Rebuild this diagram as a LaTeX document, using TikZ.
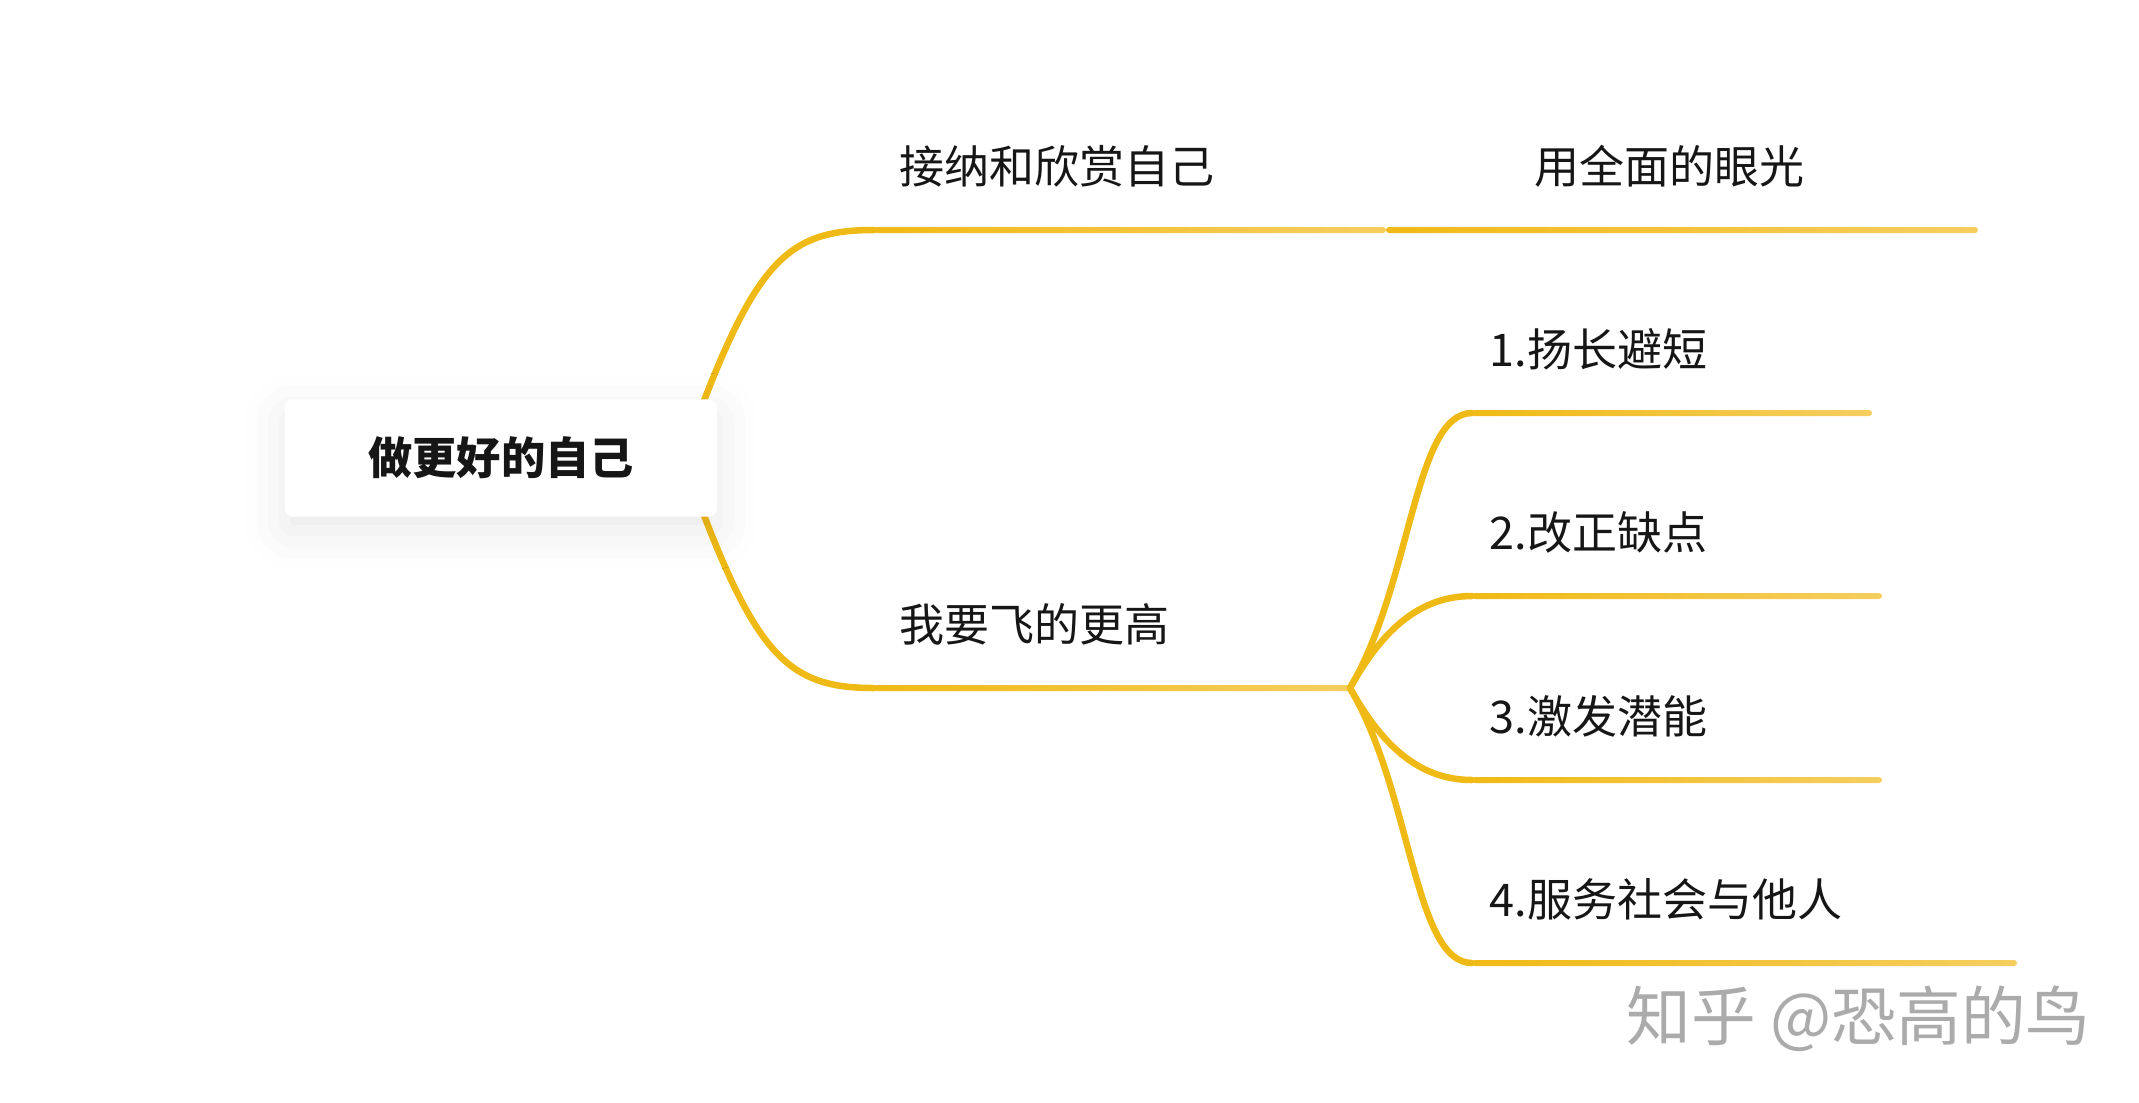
\documentclass[tikz,border=0pt]{standalone}
\usepackage{fontspec}
\newfontfamily\cjk{Noto Sans CJK SC}
\usepackage{tikz}
\usetikzlibrary{positioning, calc, shadows.blur, backgrounds}
\definecolor{mapgold}{RGB}{240,186,22}
\definecolor{mapgoldlight}{RGB}{245,206,95}
\definecolor{inkblack}{RGB}{22,22,22}
\tikzset{
    branch/.style={draw=mapgold, line width=0.065cm, line cap=round},
    underbar/.style={left color=mapgold, right color=mapgoldlight, rounded corners=0.03cm},
    topic/.style={font=\cjk\fontsize{12.8pt}{15pt}\selectfont, text=inkblack, inner sep=0pt,
        text height=0.396cm, text depth=0.054cm},
    rootbox/.style={fill=white, rounded corners=0.08cm, minimum width=4.32cm, minimum height=1.17cm,
        font=\cjk\bfseries\fontsize{12.6pt}{15pt}\selectfont, text=inkblack,
        blur shadow={shadow xshift=0cm, shadow yshift=-0.14cm, shadow blur radius=0.4cm, shadow opacity=9}},
    watermark/.style={font=\cjk\fontsize{18.4pt}{22pt}\selectfont, text=black!33, anchor=west, inner sep=0pt},
}
\begin{document}
\begin{tikzpicture}[x=0.01cm, y=-0.01cm]
    \useasboundingbox (0,0) rectangle (2139,1102);
    \node[rootbox] (root) at (501,458) {做更好的自己};
    \coordinate (hub) at ([xshift=-0.35cm]root.east);
    % first level
    \coordinate (t1-a) at (874,230);
    \coordinate (t1-b) at (1386,230);
    \coordinate (t11-b) at (1978,230);
    \coordinate (t2-a) at (874,688);
    \coordinate (t2-b) at (1350,688);
    \node[topic, above right=0.405cm and 0.25cm of t1-a] (t1) {接纳和欣赏自己};
    \node[topic, above right=0.405cm and 1.48cm of t1-b] (t11) {用全面的眼光};
    \node[topic, above right=0.405cm and 0.25cm of t2-a] (t2) {我要飞的更高};
    \begin{scope}[on background layer]
        \draw[branch] (hub) .. controls +(70,-196) and +(-90,0) .. (t1-a);
        \draw[branch] (hub) .. controls +(70,196) and +(-90,0) .. (t2-a);
    \end{scope}
    \shade[underbar] ($(t1-a)+(0,-3)$) rectangle ($(t1-b)+(0,3)$);
    \shade[underbar] ($(t1-b)+(0,-3)$) rectangle ($(t11-b)+(0,3)$);
    \shade[underbar] ($(t2-a)+(0,-3)$) rectangle ($(t2-b)+(0,3)$);
    % second level
    \foreach \i/\y/\len/\cx/\cy/\txt in {1/413/400/62/-105/1.扬长避短, 2/596/410/28/-50/2.改正缺点,
        3/780/410/28/50/3.激发潜能, 4/963/545/62/105/4.服务社会与他人} {
        \coordinate (c\i-a) at (1472,\y);
        \coordinate (c\i-b) at (1472+\len,\y);
        \node[topic, above right=0.405cm and 0.17cm of c\i-a] (c\i) {\txt};
        \draw[branch] (t2-b) .. controls +(\cx,\cy) and +(-58,0) .. (c\i-a);
        \shade[underbar] ($(c\i-a)+(0,-3)$) rectangle ($(c\i-b)+(0,3)$);
    }
    \node[watermark] (mark) at (1626,1019) {知乎 @恐高的鸟};
\end{tikzpicture}
\end{document}
